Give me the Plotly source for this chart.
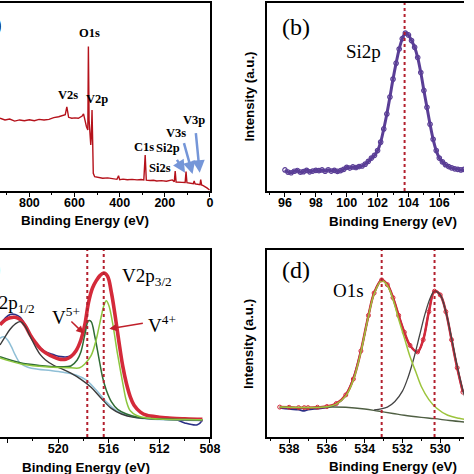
import plotly.graph_objects as go

# --------------------------------------------------
# DATA
# --------------------------------------------------

# (a) survey spectrum
survey_be = [930, 908, 887, 865, 843, 822, 800, 778, 757, 735, 713, 692, 670,
             657, 641, 634, 626, 612, 598, 583, 566, 560, 554, 547, 541, 538.5,
             535.4, 531, 528, 525.5, 522.4, 519.4, 516.8, 510.7, 496, 475, 453,
             430, 412, 405, 400, 385, 366, 345, 323, 305, 293, 287, 282, 265,
             250, 236, 215, 193, 180, 167, 158, 154, 150, 135, 124, 110, 106,
             102, 90, 80, 74, 70, 66, 62, 50, 44, 41, 37, 30, 20, 12, 6, 2]
survey_int = [38.7, 37.8, 38.3, 37.2, 37.8, 37.4, 37.9, 37.4, 38.1, 37.8, 38.1,
              39.0, 39.5, 39.9, 40.6, 44.8, 39.2, 38.7, 38.9, 38.7, 39.9, 41.0,
              36.9, 34.2, 32.4, 76.8, 37.8, 27.1, 24.5, 28.9, 43.1, 25.4, 9.4,
              7.6, 7.2, 6.8, 7.0, 6.5, 6.2, 8.1, 6.0, 6.3, 6.0, 6.2, 5.9, 6.1,
              5.9, 19.1, 5.8, 5.6, 5.7, 5.3, 5.5, 5.2, 5.6, 5.9, 5.0, 10.6, 4.8,
              4.9, 4.6, 4.5, 10.3, 4.4, 4.3, 4.1, 3.9, 5.3, 3.8, 3.7, 3.5, 3.4,
              6.0, 3.2, 2.9, 2.3, 1.5, 0.9, 0.5]

# (b) Si2p
si_be = [96.0, 96.2, 96.4, 96.6, 96.8, 97.0, 97.2, 97.4, 97.6, 97.8, 98.0,
         98.2, 98.4, 98.6, 98.8, 99.0, 99.2, 99.4, 99.6, 99.8, 100.0, 100.2,
         100.4, 100.6, 100.8, 101.0, 101.2, 101.4, 101.6, 101.8, 102.0, 102.2,
         102.4, 102.6, 102.8, 103.0, 103.2, 103.4, 103.6, 103.8, 104.0, 104.2,
         104.4, 104.6, 104.8, 105.0, 105.2, 105.4, 105.6, 105.8, 106.0, 106.2,
         106.4, 106.6, 106.8, 107.0, 107.2, 107.4, 107.6]
si_int = [11.2, 10.0, 9.7, 10.5, 10.9, 10.0, 10.3, 11.0, 10.2, 10.6, 11.0,
          10.8, 11.2, 10.5, 11.3, 10.6, 11.0, 10.4, 10.8, 11.5, 12.6, 12.2,
          12.8, 12.5, 13.0, 13.3, 14.3, 15.8, 17.5, 19.0, 21.5, 26.0, 33.0,
          41.0, 50.0, 59.5, 68.0, 75.5, 81.0, 84.0, 83.0, 80.0, 76.5, 71.0,
          63.0, 53.5, 44.5, 35.5, 27.5, 21.5, 17.5, 15.5, 14.0, 13.0, 12.3,
          11.8, 11.5, 11.2, 11.5]
si_lines = [103.75]

# (c) V2p
v_be = [524.6, 524.2, 523.8, 523.4, 523.0, 522.6, 522.2, 521.8, 521.4, 521.0,
        520.6, 520.2, 519.8, 519.4, 519.0, 518.6, 518.2, 517.9, 517.6, 517.3,
        517.0, 516.7, 516.4, 516.1, 515.8, 515.5, 515.2, 514.9, 514.6, 514.3,
        514.0, 513.5, 513.0, 512.0, 511.0, 510.0, 509.0, 508.6]
v_fit = [60.0, 62.5, 63.8, 64.0, 62.8, 59.5, 54.5, 50.5, 47.2, 45.0, 43.5,
         42.3, 41.5, 41.6, 43.0, 46.0, 52.0, 59.9, 72.0, 79.5, 83.5, 86.3,
         87.7, 86.0, 77.5, 65.0, 51.0, 38.0, 28.5, 21.5, 17.0, 13.3, 11.6,
         10.6, 10.0, 9.7, 9.5, 9.4]
v_raw = [60.5, 63.5, 65.5, 65.5, 64.0, 60.0, 54.5, 50.5, 47.5, 45.5, 44.5,
         43.6, 43.0, 42.8, 43.5, 46.0, 52.0, 59.9, 72.0, 79.5, 83.5, 86.3,
         87.7, 86.0, 77.5, 65.0, 51.0, 38.0, 28.5, 21.5, 17.0, 13.3, 11.6,
         10.4, 10.2, 7.5, 6.5, 9.0]

v12_be = [524.6, 524.2, 523.8, 523.4, 523.0, 522.6, 522.2, 521.8, 521.4, 521.0,
          520.4, 519.8, 519.0, 518.2, 517.4, 516.6, 515.8, 515.0, 514.0, 512.0,
          510.0, 508.6]
v12_int = [49.2, 53.6, 57.6, 60.4, 61.7, 59.0, 53.6, 48.3, 43.9, 41.2, 38.5,
           36.7, 34.1, 30.8, 26.6, 20.7, 15.3, 12.3, 10.5, 9.6, 9.2, 9.0]

bg_be = [524.6, 524.3, 524.0, 523.7, 523.4, 523.0, 522.4, 521.6, 520.6, 519.6,
         518.6, 517.8, 517.0, 516.2, 515.4, 514.6, 513.6, 512.0, 510.0, 508.6]
bg_int = [52.8, 53.6, 51.9, 48.3, 43.9, 39.4, 37.3, 36.2, 35.5, 34.6, 33.2,
          30.5, 25.1, 18.9, 14.1, 11.8, 10.2, 9.3, 8.9, 8.8]

v5_be = [524.6, 523.0, 521.5, 520.0, 519.0, 518.5, 518.2, 517.9, 517.6, 517.4,
         517.1, 516.8, 516.5, 516.2, 515.8, 515.3, 514.6, 513.6, 512.0, 510.0,
         508.6]
v5_int = [42.9, 39.7, 38.3, 37.6, 38.0, 41.2, 45.6, 54.5, 62.2, 61.7, 53.6,
          42.9, 32.2, 25.1, 18.9, 14.8, 12.3, 10.4, 9.6, 9.3, 9.2]

v4_be = [524.6, 523.0, 521.5, 520.0, 519.0, 518.3, 517.9, 517.4, 517.0, 516.8,
         516.6, 516.4, 516.2, 516.0, 515.7, 515.3, 514.9, 514.6, 514.3, 513.8,
         513.0, 512.0, 510.0, 508.6]
v4_int = [42.3, 39.2, 37.8, 37.1, 37.0, 37.0, 39.0, 43.5, 51.9, 58.0, 64.3,
          70.0, 72.9, 70.5, 61.0, 44.0, 29.0, 19.0, 14.0, 11.5, 10.2, 9.6,
          9.3, 9.2]
v_lines = [517.7, 516.4]

# (d) O1s
o_be = [538.5, 538.0, 537.5, 537.2, 537.0, 536.5, 536.0, 535.5, 535.0, 534.6,
        534.2, 533.8, 533.5, 533.1, 532.8, 532.5, 532.2, 531.9, 531.6, 531.2,
        530.9, 530.6, 530.3, 530.0, 529.7, 529.4, 529.1, 528.8]
o_fit = [16.0, 15.9, 15.7, 15.7, 15.7, 15.9, 16.3, 17.9, 22.5, 31.0, 46.0,
         65.0, 77.0, 84.0, 81.5, 74.5, 65.0, 56.0, 49.0, 45.5, 52.0, 67.0,
         78.0, 76.0, 67.0, 52.0, 37.0, 24.0]
o_raw = [15.6, 15.0, 14.6, 14.0, 14.6, 15.2, 15.8, 17.5, 22.5, 31.5, 46.0,
         65.0, 77.0, 84.0, 81.5, 74.5, 65.0, 56.0, 49.0, 45.5, 52.0, 67.0,
         78.0, 76.0, 67.0, 52.0, 37.0, 24.0]

o1_be = [538.5, 537.0, 536.0, 535.5, 535.0, 534.6, 534.2, 533.8, 533.5, 533.1,
         532.8, 532.5, 532.2, 531.9, 531.6, 531.3, 531.0, 530.6, 530.2, 529.6,
         529.0, 528.7]
o1_int = [16.0, 15.8, 16.2, 17.6, 22.0, 30.5, 45.5, 64.5, 76.5, 83.5, 81.0,
          73.5, 63.0, 53.0, 43.0, 35.0, 27.0, 20.0, 15.5, 11.6, 10.0, 9.5]

o2_be = [533.5, 532.8, 532.4, 532.0, 531.7, 531.4, 531.1, 530.8, 530.5, 530.3,
         530.0, 529.7, 529.4, 529.1, 528.8, 528.7]
o2_int = [14.5, 16.0, 19.0, 24.5, 32.0, 42.0, 54.0, 66.0, 75.0, 78.0, 76.0,
          67.0, 53.0, 38.0, 25.0, 21.5]

obg_be = [538.5, 537.0, 536.0, 535.0, 534.0, 533.3, 532.5, 531.9, 531.0, 530.3,
          529.5, 528.7]
obg_int = [16.0, 15.7, 16.0, 15.9, 15.0, 13.9, 12.6, 11.6, 10.5, 9.8, 8.8, 8.0]
o_lines = [533.1, 530.3]


# --------------------------------------------------
# HELPERS
# --------------------------------------------------

W = 474
H = 474

SANS = "Liberation Sans, Arial"
SERIF = "Liberation Serif, Times New Roman"


def px(x):
    return x / W


def py(y):
    return 1 - y / H


def line(x, y, color, width, xa, ya, shape="linear"):
    return go.Scatter(
        x=x, y=y, mode="lines",
        line=dict(color=color, width=width, shape=shape),
        xaxis=xa, yaxis=ya, hoverinfo="skip"
    )


fig = go.Figure()

# (a)
fig.add_trace(line(survey_be, survey_int, "#b5121b", 1.4, "x", "y"))

# (b)
fig.add_trace(go.Scatter(
    x=si_be, y=si_int, mode="lines+markers",
    line=dict(color="#5a3e96", width=3, shape="spline"),
    marker=dict(symbol="circle-open", size=4.5, color="#5a3e96",
                line=dict(width=1.2)),
    xaxis="x2", yaxis="y2", hoverinfo="skip"
))

# (c)
fig.add_trace(line(v_be, v_raw, "#2b2f86", 1.6, "x3", "y3", "spline"))
fig.add_trace(line(v_be, v_fit, "#d42a3a", 3.6, "x3", "y3", "spline"))
fig.add_trace(line(bg_be, bg_int, "#8fbfd6", 1.5, "x3", "y3", "spline"))
fig.add_trace(line(v12_be, v12_int, "#3a3a3a", 1.4, "x3", "y3", "spline"))
fig.add_trace(line(v5_be, v5_int, "#2e6b34", 1.5, "x3", "y3", "spline"))
fig.add_trace(line(v4_be, v4_int, "#8cc63f", 1.5, "x3", "y3", "spline"))

# (d)
fig.add_trace(line(o_be, o_raw, "#2b2f86", 1.8, "x4", "y4", "spline"))
fig.add_trace(go.Scatter(
    x=o_be, y=o_fit, mode="lines+markers",
    line=dict(color="#d42a3a", width=2.5, shape="spline"),
    marker=dict(symbol="circle-open", size=4, color="#d42a3a",
                line=dict(width=1)),
    xaxis="x4", yaxis="y4", hoverinfo="skip"
))
fig.add_trace(line(obg_be, obg_int, "#4f5f43", 1.4, "x4", "y4", "spline"))
fig.add_trace(line(o2_be, o2_int, "#444444", 1.3, "x4", "y4", "spline"))
fig.add_trace(line(o1_be, o1_int, "#9cc43c", 1.5, "x4", "y4", "spline"))


# --------------------------------------------------
# AXES
# --------------------------------------------------

def xaxis(domain, rng, dtick, minor, anchor):
    return dict(
        domain=domain, range=rng, anchor=anchor,
        showline=True, linecolor="black", linewidth=1.5, mirror=True,
        ticks="outside", ticklen=4, tickwidth=1.2, tickcolor="black",
        dtick=dtick, tick0=0, ticklabelstandoff=-5,
        minor=dict(ticks="outside", ticklen=2.5, tickwidth=1,
                   tickcolor="black", dtick=minor),
        showgrid=False, zeroline=False,
        tickfont=dict(family=SANS, size=12.5, color="black", weight="bold")
    )


def yaxis(domain, anchor, side):
    return dict(
        domain=domain, range=[0, 100], anchor=anchor, side=side,
        showline=True, linecolor="black", linewidth=1.5, mirror=False,
        ticks="", showticklabels=False, showgrid=False, zeroline=False
    )


top = [1 - 191 / H, 1 - 3 / H]
bottom = [1 - 437 / H, 1 - 250 / H]
left = [0, 214.5 / W]
right = [273 / W, 1]

fig.update_layout(
    xaxis=xaxis(left, [930, 0], 200, 100, "y"),
    yaxis=yaxis(top, "x", "right"),
    xaxis2=xaxis(right, [94.85, 107.6], 2, 1, "y2"),
    yaxis2=yaxis(top, "x2", "left"),
    xaxis3=xaxis(left, [524.6, 508], 4, 2, "y3"),
    yaxis3=yaxis(bottom, "x3", "right"),
    xaxis4=xaxis(right, [539.16, 528.74], 2, 1, "y4"),
    yaxis4=yaxis(bottom, "x4", "left"),
)

# dotted reference lines
shapes = []
for xa, vals in (("x2", si_lines), ("x3", v_lines), ("x4", o_lines)):
    ya = xa.replace("x", "y")
    for v in vals:
        shapes.append(dict(
            type="line", xref=xa, yref=ya + " domain",
            x0=v, x1=v, y0=0, y1=1,
            line=dict(color="#b3202e", width=2, dash="dot")
        ))


# --------------------------------------------------
# TEXT
# --------------------------------------------------

ann = []


def text(t, x, y, size, family=SERIF, bold=False, xanchor="center",
         angle=0, color="black"):
    ann.append(dict(
        text=t, x=px(x), y=py(y), xref="paper", yref="paper",
        xanchor=xanchor, yanchor="middle", showarrow=False, textangle=angle,
        font=dict(family=family, size=size, color=color,
                  weight="bold" if bold else "normal")
    ))


def arrow(x0, y0, x1, y1, color, width):
    ann.append(dict(
        text="", x=px(x1), y=py(y1), xref="paper", yref="paper",
        ax=x0 - x1, ay=y0 - y1, showarrow=True,
        arrowhead=2, arrowsize=1, arrowwidth=width, arrowcolor=color
    ))


# axis titles
for cx, cy in ((86.7, 220), (401, 221.7), (87.5, 467), (401, 466.7)):
    text("Binding Energy (eV)", cx, cy, 13.4, SANS, True)
text("Intensity (a.u.)", 255.3, 96.7, 13.3, SANS, True, angle=-90)
text("Intensity (a.u.)", 253.7, 343.7, 13.3, SANS, True, angle=-90)

# panel labels
text("(a)", 4, 24, 24, xanchor="right")
text("(b)", 302.7, 26.7, 24)
text("(c)", 3.5, 268, 24, xanchor="right")
text("(d)", 302.7, 270, 24)

# (a) peak labels
for t, cx, cy in (("O1s", 91.7, 33.3), ("V2s", 69, 95), ("V2p", 99.5, 99),
                  ("C1s", 146.7, 146.7), ("Si2s", 163.3, 168.3),
                  ("Si2p", 171.7, 148.3), ("V3s", 180, 133.3),
                  ("V3p", 198.3, 120)):
    text(t, cx, cy, 12.5, bold=True)

arrow(180, 158.3, 189, 172.7, "#7596d8", 2.5)
arrow(187.7, 141.7, 196.7, 174, "#7596d8", 2.5)
arrow(200, 131.7, 204, 172.7, "#7596d8", 2.5)

# (b), (d)
text("Si2p", 371, 51.7, 19)
text("O1s", 356, 290, 19)

# (c)
text("V2p<sub>3/2</sub>", 123, 277, 19, xanchor="left")
text("V2p<sub>1/2</sub>", 38.3, 304, 19, xanchor="right")
text("V<sup>5+</sup>", 67.5, 316, 19)
text("V<sup>4+</sup>", 166, 324, 19)
arrow(71.7, 320, 85.5, 333.5, "#c0202a", 1.5)
arrow(146.7, 323, 111.7, 328.7, "#c0202a", 1.5)

fig.update_layout(
    width=W, height=H, autosize=False,
    margin=dict(l=0, r=0, t=0, b=0, pad=0),
    paper_bgcolor="white", plot_bgcolor="white",
    showlegend=False,
    shapes=shapes,
    annotations=ann
)

# page has a default 8px body margin; drop it so the figure sits at 0,0
fig.write_html(
    "out.html",
    config={"displayModeBar": False},
    post_script="document.body.style.margin='0';"
)
